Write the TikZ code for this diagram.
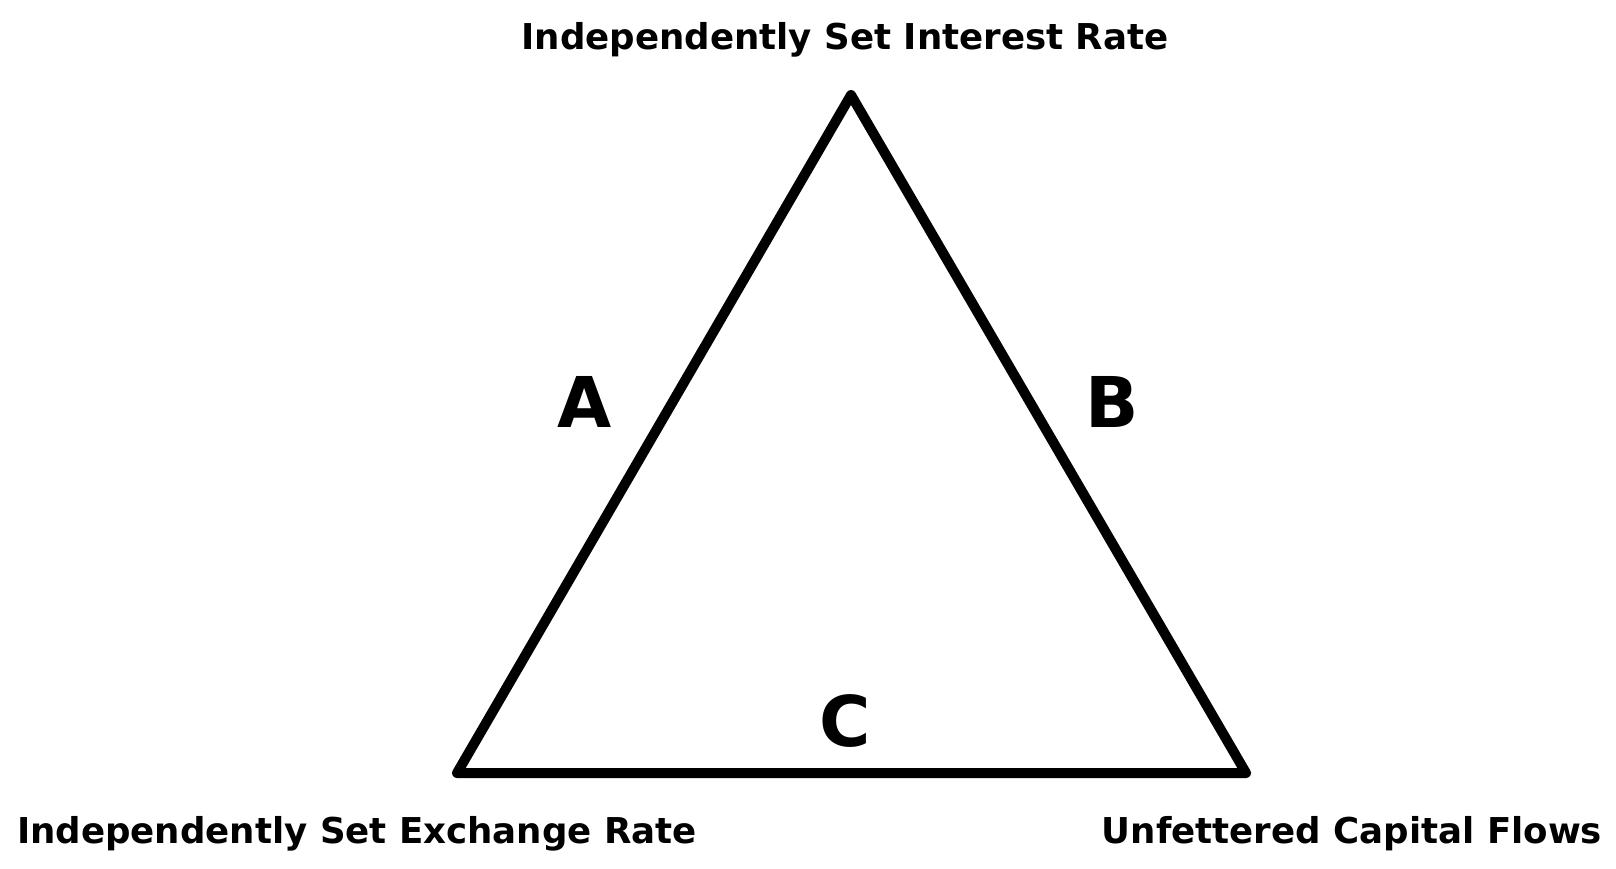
\documentclass[tikz,border=0pt]{standalone}
\usepackage{fontspec}
\setmainfont{DejaVu Sans}
\begin{document}
\begin{tikzpicture}[x=0.5pt,y=-0.5pt,line join=round,line cap=round,
	corner/.style={font=\fontsize{17.8}{21}\selectfont\bfseries,inner sep=0pt},
	side/.style={font=\fontsize{35}{40}\selectfont\bfseries,inner sep=0pt}]
	% Frame
	\useasboundingbox (0,0) rectangle (1616,868);
	
	% Vertices
	\coordinate (top) at (851,95);
	\coordinate (left) at (457,773);
	\coordinate (right) at (1246,773);
	
	% Triangle
	\draw[line width=5pt] (top)--(right)--(left)--cycle;
	
	% Corner labels
	\node[corner] (interest) at (845,40) {Independently Set Interest Rate};
	\node[corner] (exchange) at (357,834) {Independently Set Exchange Rate};
	\node[corner] (capital) at (1352,834) {Unfettered Capital Flows};
	
	% Side labels
	\node[side] (sideA) at (585,402) {A};
	\node[side] (sideB) at (1112,402) {B};
	\node[side] (sideC) at (845,721) {C};
\end{tikzpicture}
\end{document}
